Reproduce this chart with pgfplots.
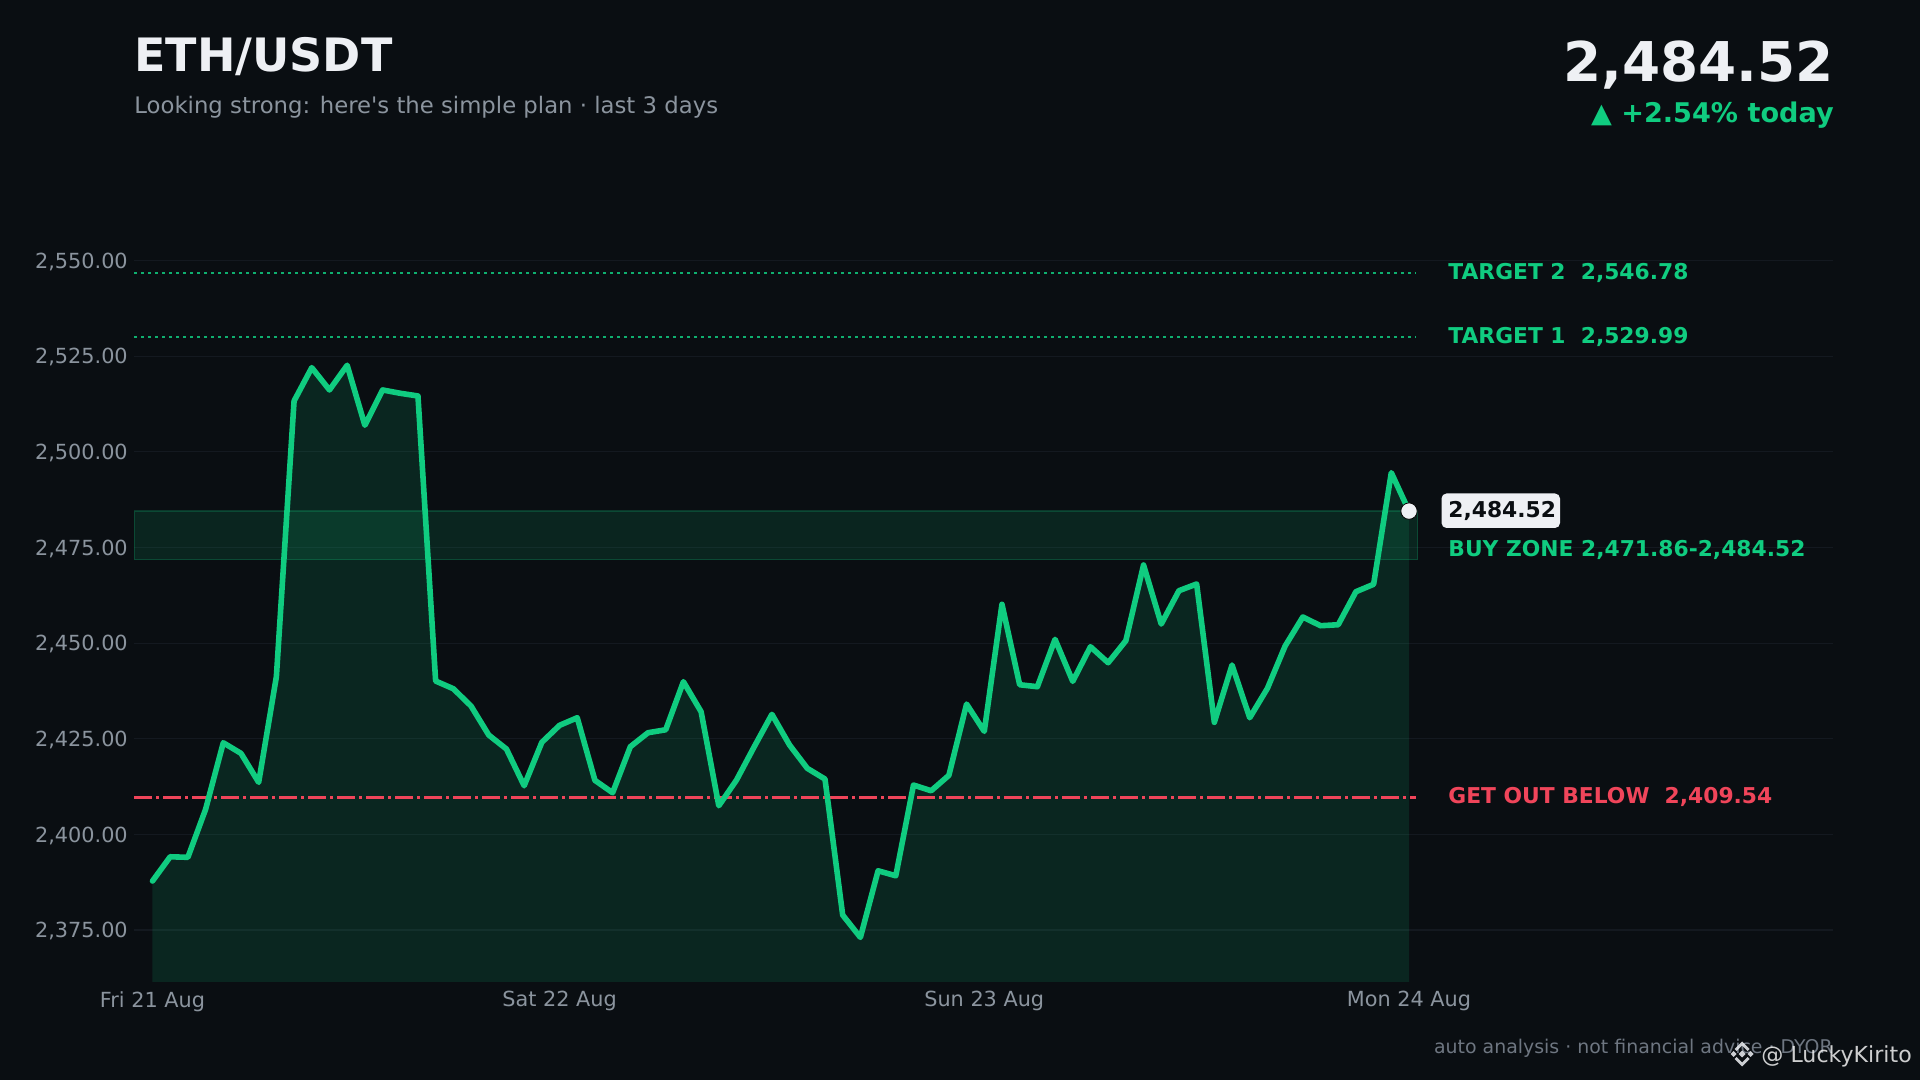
\documentclass[border=0pt]{standalone}
\usepackage{fontspec}
\setmainfont[Ligatures=TeXOff]{DejaVu Sans}
\usepackage{pgfplots}
\pgfplotsset{compat=1.18}
\usepackage{pgfplotstable}
\definecolor{bg}{HTML}{0A0E12}
\definecolor{grn}{HTML}{10CC80}
\definecolor{gridc}{HTML}{141920}
\definecolor{greyt}{HTML}{8B949E}
\definecolor{greyf}{HTML}{6E7681}
\definecolor{redl}{HTML}{F0455A}
\definecolor{whitet}{HTML}{EEF0F4}
\pgfplotstableread{
i v
0 2387.80
1 2394.14
2 2394.00
3 2406.54
4 2423.95
5 2421.18
6 2413.60
7 2441.21
8 2513.31
9 2522.02
10 2516.19
11 2522.65
12 2506.96
13 2516.19
14 2515.32
15 2514.62
16 2440.09
17 2438.07
18 2433.55
19 2425.97
20 2422.31
21 2412.71
22 2424.06
23 2428.50
24 2430.49
25 2414.12
26 2410.88
27 2422.91
28 2426.57
29 2427.35
30 2439.91
31 2432.06
32 2407.48
33 2414.20
34 2422.91
35 2431.38
36 2423.35
37 2417.26
38 2414.46
39 2378.90
40 2373.06
41 2390.48
42 2389.17
43 2412.89
44 2411.40
45 2415.43
46 2434.07
47 2426.93
48 2460.15
49 2439.12
50 2438.60
51 2450.99
52 2440.01
53 2449.06
54 2444.87
55 2450.63
56 2470.42
57 2454.99
58 2463.70
59 2465.46
60 2429.29
61 2444.27
62 2430.49
63 2438.18
64 2449.24
65 2456.83
66 2454.55
67 2454.81
68 2463.44
69 2465.38
70 2494.56
71 2484.52
}\pricedata
\begin{document}
\begin{tikzpicture}[x=0.5pt,y=0.5pt]
\useasboundingbox (0,0) rectangle (1920,1080);
\fill[bg] (0,0) rectangle (1920,1080);
\begin{axis}[
  at={(67pt,49pt)}, anchor=south west,
  scale only axis, width=849.5pt, height=371pt,
  xmin=-1.045, xmax=94.96, ymin=2361.4, ymax=2555.4,
  axis line style={draw=none},
  major tick length=0pt,
  ymajorgrids, grid style={gridc, line width=0.6pt},
  xtick={0,23,47,71},
  xticklabels={Fri 21 Aug,Sat 22 Aug,Sun 23 Aug,Mon 24 Aug},
  ytick={2375,2400,2425,2450,2475,2500,2525,2550},
  tick label style={font=\fontsize{10.4pt}{12pt}\selectfont, text=greyt},
  x tick label style={yshift=-1.2pt},
  y tick label style={xshift=0.4pt, yshift=-0.6pt},
  /pgf/number format/assume math mode=true,
  yticklabel style={/pgf/number format/.cd, fixed, fixed zerofill, precision=2, 1000 sep={,}},
]
\addplot[draw=none, fill=grn, fill opacity=0.13] table[x=i,y=v] {\pricedata} \closedcycle;
\addplot[fill=grn, fill opacity=0.12, draw=grn, draw opacity=0.22, line width=0.6pt] coordinates {(-1.045,2471.86) (71.5,2471.86) (71.5,2484.52) (-1.045,2484.52)} -- cycle;
\addplot[grn, line width=1.3pt, dash pattern=on 1.3pt off 2.2pt, opacity=0.85] coordinates {(-1.045,2546.78) (71.4,2546.78)};
\addplot[grn, line width=1.3pt, dash pattern=on 1.3pt off 2.2pt, opacity=0.85] coordinates {(-1.045,2529.99) (71.4,2529.99)};
\addplot[redl, line width=1.55pt, dash pattern=on 8.8pt off 2.2pt on 1.4pt off 2.1pt] coordinates {(-1.045,2409.54) (71.4,2409.54)};
\addplot[grn, line width=2.8pt, line join=round, line cap=round] table[x=i,y=v] {\pricedata};
\addplot[only marks, mark=*, mark size=4.1pt, mark options={fill=whitet, draw=none}] coordinates {(71,2484.52)};
\end{axis}
% header
\node[anchor=base west, inner sep=0, text=whitet, font=\fontsize{23pt}{26pt}\selectfont\bfseries] at (134,1080-72) {ETH/USDT};
\node[anchor=base west, inner sep=0, text=greyt, font=\fontsize{11.38pt}{13pt}\selectfont] at (134,1080-114) {Looking strong: here's the simple plan · last 3 days};
\node[anchor=base east, inner sep=0, text=whitet, font=\fontsize{27.4pt}{30pt}\selectfont\bfseries] at (1834,1080-82) {2,484.52};
\node[anchor=base east, inner sep=0, text=grn, font=\fontsize{13.55pt}{15pt}\selectfont\bfseries] at (1834,1080-122.5) {▲ +2.54\% today};
% right labels
\node[anchor=base west, inner sep=0, text=grn, font=\fontsize{10.9pt}{12pt}\selectfont\bfseries] at (1448,1080-280) {TARGET 2\ \ 2,546.78};
\node[anchor=base west, inner sep=0, text=grn, font=\fontsize{10.9pt}{12pt}\selectfont\bfseries] at (1448,1080-344) {TARGET 1\ \ 2,529.99};
\node[anchor=base west, inner sep=0, text=grn, font=\fontsize{10.9pt}{12pt}\selectfont\bfseries] at (1448,1080-557) {BUY ZONE 2,471.86-2,484.52};
\node[anchor=base west, inner sep=0, text=redl, font=\fontsize{10.9pt}{12pt}\selectfont\bfseries] at (1448,1080-804) {GET OUT BELOW\ \ 2,409.54};
\fill[whitet, rounded corners=2.5pt] (1441.5,1080-493.5) rectangle (1560,1080-528);
\node[anchor=base west, inner sep=0, text=bg, font=\fontsize{10.9pt}{12pt}\selectfont\bfseries] at (1448,1080-517.5) {2,484.52};
% footer
\node[anchor=base east, inner sep=0, text=greyf, font=\fontsize{9.46pt}{11pt}\selectfont] at (1833,1080-1054) {auto analysis · not financial advice · DYOR};
\node[anchor=base west, inner sep=0, text=white, opacity=0.8, font=\fontsize{11.05pt}{13pt}\selectfont] at (1761,1080-1063) {@ LuckyKirito};
% logo
\begin{scope}[shift={(1742,1080-1054)}, whitet, opacity=0.85]
\fill (0,3.5) -- (3.5,0) -- (0,-3.5) -- (-3.5,0) -- cycle;
\fill (-8.5,3) -- (-5.5,0) -- (-8.5,-3) -- (-11.5,0) -- cycle;
\fill (8.5,3) -- (11.5,0) -- (8.5,-3) -- (5.5,0) -- cycle;
\fill (0,12.5) -- (7.5,5) -- (5.5,3) -- (0,8.5) -- (-5.5,3) -- (-7.5,5) -- cycle;
\fill (0,-12.5) -- (7.5,-5) -- (5.5,-3) -- (0,-8.5) -- (-5.5,-3) -- (-7.5,-5) -- cycle;
\end{scope}
\end{tikzpicture}
\end{document}
